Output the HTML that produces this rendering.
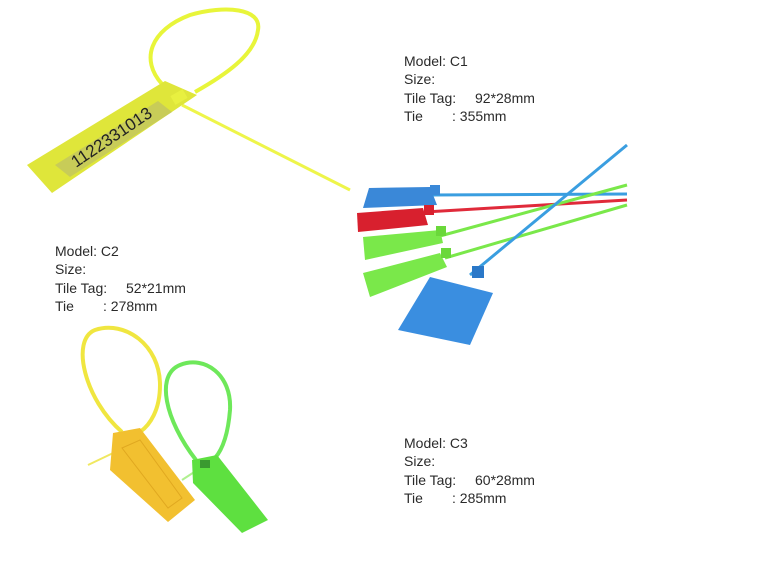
<!DOCTYPE html>
<html><head><meta charset="utf-8"><style>
body{margin:0;background:#fff;width:780px;height:585px;overflow:hidden}
.t{position:absolute;font-family:"Liberation Sans",sans-serif;font-size:14px;color:#2a2a2a;line-height:18.3px;white-space:pre}
.t div{position:relative;height:18.3px}
.t span{position:absolute;top:0}
</style></head><body>
<svg width="780" height="585" style="position:absolute;left:0;top:0">
<!-- top-left yellow -->
<path d="M162,84 C140,60 150,30 190,15 C225,5 262,8 258,30 C255,55 225,75 195,92" fill="none" stroke="#e8f53a" stroke-width="4"/>
<line x1="182" y1="105" x2="350" y2="190" stroke="#eef54a" stroke-width="3"/>
<polygon points="27,165 165,81 197,95 52,193" fill="#dfe63a"/>
<polygon points="55,165 158,101 172,112 70,177" fill="#c8cc58"/>
<rect x="172" y="92" width="14" height="10" fill="#e8f040" transform="rotate(-30 179 97)"/>
<text x="0" y="0" transform="translate(76,168) rotate(-34)" font-family="Liberation Sans" font-size="17" fill="#222">1122331013</text>
<!-- right group straps -->
<line x1="430" y1="195" x2="627" y2="194" stroke="#3a9ee0" stroke-width="3"/>
<line x1="425" y1="212" x2="627" y2="200" stroke="#e02a3a" stroke-width="3"/>
<line x1="440" y1="236" x2="627" y2="185" stroke="#7ae84a" stroke-width="3"/>
<line x1="445" y1="258" x2="627" y2="205" stroke="#7ae84a" stroke-width="3"/>
<line x1="470" y1="275" x2="627" y2="145" stroke="#3a9ee0" stroke-width="3"/>
<polygon points="369,188 430,187 437,205 363,208" fill="#3a88d8"/>
<rect x="430" y="185" width="10" height="10" fill="#3a88d8"/>
<polygon points="357,213 423,208 428,225 358,232" fill="#d8202e"/>
<rect x="424" y="205" width="10" height="10" fill="#d8202e"/>
<polygon points="363,237 440,230 443,243 365,260" fill="#7ae84a"/>
<rect x="436" y="226" width="10" height="10" fill="#6ad83a"/>
<polygon points="363,273 440,253 447,267 370,297" fill="#7ae84a"/>
<rect x="441" y="248" width="10" height="10" fill="#6ad83a"/>
<polygon points="430,277 493,293 470,345 398,330" fill="#3a8ee0"/>
<rect x="472" y="266" width="12" height="12" fill="#2a78c8"/>
<!-- bottom-left -->
<path d="M122,432 C85,400 70,340 95,330 C125,320 160,345 160,385 C160,410 150,425 140,432" fill="none" stroke="#f0e640" stroke-width="4"/>
<line x1="88" y1="465" x2="130" y2="445" stroke="#f0e860" stroke-width="2"/>
<polygon points="113,433 140,428 195,500 168,522 110,470" fill="#f2c030"/>
<polygon points="122,448 140,440 182,498 168,508" fill="none" stroke="#e0a820" stroke-width="1"/>
<path d="M196,460 C165,420 155,375 180,365 C205,355 232,375 230,410 C228,435 222,450 215,458" fill="none" stroke="#6ee85a" stroke-width="4"/>
<line x1="182" y1="480" x2="205" y2="465" stroke="#b0f090" stroke-width="2"/>
<polygon points="192,460 217,455 268,520 242,533 193,483" fill="#5ee040"/>
<rect x="200" y="460" width="10" height="8" fill="#3a9a30"/>
</svg>
<div class="t" style="left:404px;top:52px;width:200px"><div>Model: C1</div><div>Size:</div><div>Tile Tag:<span style="left:71px">92*28mm</span></div><div>Tie<span style="left:48px">: 355mm</span></div></div>
<div class="t" style="left:55px;top:242px;width:200px"><div>Model: C2</div><div>Size:</div><div>Tile Tag:<span style="left:71px">52*21mm</span></div><div>Tie<span style="left:48px">: 278mm</span></div></div>
<div class="t" style="left:404px;top:434px;width:200px"><div>Model: C3</div><div>Size:</div><div>Tile Tag:<span style="left:71px">60*28mm</span></div><div>Tie<span style="left:48px">: 285mm</span></div></div>
</body></html>
